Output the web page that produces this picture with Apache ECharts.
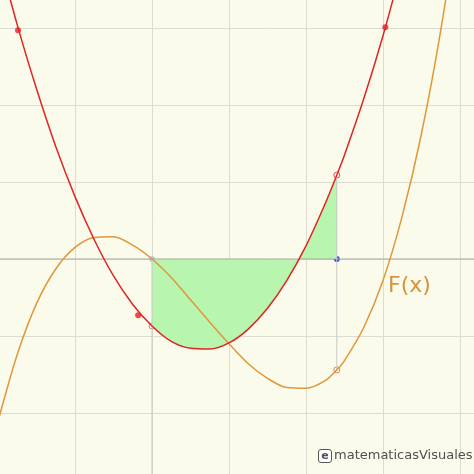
<!DOCTYPE html>
<html>
<head>
<meta charset="utf-8">
<script src="https://cdn.jsdelivr.net/npm/echarts@6/dist/echarts.min.js"></script>
<style>
html,body{margin:0;padding:0;background:#fbfbec;overflow:hidden;width:474px;height:474px;position:relative}
#c{position:absolute;left:-2px;top:-49px;width:539px;height:539px}
#wm{position:absolute;left:318px;top:447px;font:13px "DejaVu Sans";color:#505050}
#wm span{display:inline-block;border:1.5px solid #555;border-radius:3px;font-weight:bold;font-size:11px;line-height:12px;width:12px;text-align:center;margin-right:2px;background:#fff}
</style>
</head>
<body>
<div id="c"></div>
<div id="wm"><span>e</span>matematicasVisuales</div>
<script>
// values, one grid square = 1 unit
const xs = [-2, -1.75, -1.5, -1.25, -1, -0.75, -0.5, -0.25, 0, 0.25, 0.5, 0.75, 1, 1.25, 1.5, 1.75, 2, 2.25, 2.4, 2.5, 2.75, 3, 3.25, 3.5, 3.75, 4];
const fVals = [3.97, 3.04, 2.21, 1.46, 0.81, 0.25, -0.22, -0.59, -0.87, -1.07, -1.16, -1.17, -1.09, -0.91, -0.64, -0.28, 0.17, 0.72, 1.09, 1.35, 2.08, 2.9, 3.82, null, null, null];
const FVals = [-2.11, -1.24, -0.58, -0.13, 0.15, 0.28, 0.29, 0.18, 0, -0.24, -0.53, -0.82, -1.1, -1.36, -1.55, -1.67, -1.68, -1.58, -1.44, -1.32, -0.89, -0.28, 0.56, 1.63, 2.97, 4.6];
const areaFrom = 0, areaTo = 2.4;
const redDots = [[-1.74, 2.97], [3.03, 3.01], [-0.18, -0.73]];

const fLine = [], FLine = [], area = [];
xs.forEach((x, i) => {
  if (fVals[i] !== null) fLine.push([x, fVals[i]]);
  FLine.push([x, FVals[i]]);
  if (x >= areaFrom && x <= areaTo) area.push([x, fVals[i]]);
});

const chart = echarts.init(document.getElementById('c'));
chart.setOption({
  backgroundColor: '#fbfbec',
  animation: false,
  grid: { left: 0, right: 0, top: 0, bottom: 0 },
  xAxis: {
    type: 'value', min: -2, max: 5, interval: 1,
    axisLabel: { show: false }, axisTick: { show: false },
    axisLine: { show: false },
    splitLine: { lineStyle: { color: '#dcdcd2', width: 1 } }
  },
  yAxis: {
    type: 'value', min: -3, max: 4, interval: 1,
    axisLabel: { show: false }, axisTick: { show: false },
    axisLine: { show: false },
    splitLine: { lineStyle: { color: '#dcdcd2', width: 1 } }
  },
  series: [
    { type: 'line', data: area, smooth: 0.3, symbol: 'none', lineStyle: { width: 0 },
      areaStyle: { color: '#b8f5ae', opacity: 1, origin: 0 } },
    { type: 'line', data: [[-2, 0], [5, 0]], symbol: 'none', lineStyle: { color: '#a8a8a0', width: 1 } },
    { type: 'line', data: [[0, 0], [0, -3]], symbol: 'none', lineStyle: { color: '#c8c8c8', width: 1 } },
    { type: 'line', data: [[2.4, 1.09], [2.4, -1.44]], symbol: 'none', lineStyle: { color: '#c8c8c8', width: 1 } },
    { type: 'line', data: FLine, smooth: 0.3, symbol: 'none', lineStyle: { color: '#e0963a', width: 1.5 } },
    { type: 'line', data: fLine, smooth: 0.3, symbol: 'none', lineStyle: { color: '#e02424', width: 1.5 } },
    { type: 'scatter', data: redDots, symbolSize: 6, itemStyle: { color: '#e82020' } },
    { type: 'scatter', data: [[2.4, 1.09]], symbolSize: 6, itemStyle: { color: '#fff', borderColor: '#e02424', borderWidth: 1 } },
    { type: 'scatter', data: [[0, -0.87], [2.4, -1.44]], symbolSize: 6, itemStyle: { color: '#fff', borderColor: '#d06a2a', borderWidth: 1 } },
    { type: 'scatter', data: [[2.4, 0]], symbolSize: 6, itemStyle: { color: '#1a1ae6' } },
    { type: 'scatter', data: [[0, 0]], symbolSize: 6, itemStyle: { color: '#a8c0e0' } }
  ],
  graphic: [
    { type: 'text', left: 390, top: 324, style: { text: 'F(x)', fill: '#d8923e', font: '22px "DejaVu Sans"' } }
  ]
});
</script>
</body>
</html>
